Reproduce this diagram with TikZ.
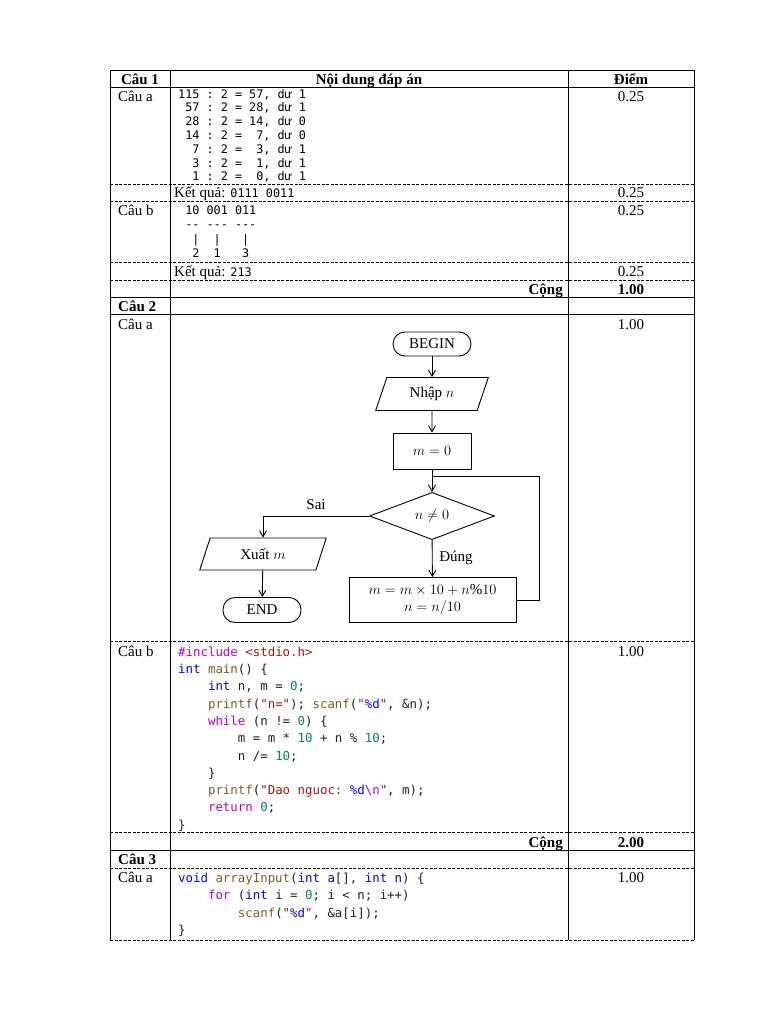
\documentclass[tikz,border=0pt]{standalone}
\usepackage{fontspec}
\setmainfont{Liberation Serif}
\newfontfamily\cmono{DejaVu Sans Mono}
\usetikzlibrary{shapes.geometric,arrows.meta}
\definecolor{ckw}{HTML}{0000FF}
\definecolor{cctl}{HTML}{AF00DB}
\definecolor{cfn}{HTML}{795E26}
\definecolor{cstr}{HTML}{A31515}
\definecolor{cnum}{HTML}{098658}
\definecolor{cvar}{HTML}{202020}
\newcommand{\K}[1]{\textcolor{ckw}{#1}}
\newcommand{\C}[1]{\textcolor{cctl}{#1}}
\newcommand{\F}[1]{\textcolor{cfn}{#1}}
\newcommand{\Sq}[1]{\textcolor{cstr}{#1}}
\newcommand{\N}[1]{\textcolor{cnum}{#1}}
\begin{document}
\begin{tikzpicture}[x=1pt,y=-1pt,
  hd/.style={text height=10pt, text depth=3pt, yshift=-1.8pt},
  txt/.style={font=\fontsize{15}{16}\selectfont, inner sep=0pt, anchor=west, hd},
  bt/.style={font=\bfseries\fontsize{15}{16}\selectfont, inner sep=0pt, hd},
  pt/.style={font=\fontsize{15}{16}\selectfont, inner sep=0pt, hd},
  cd/.style={font=\cmono\fontsize{11.8}{13}\selectfont, inner sep=0pt, anchor=west, text height=9pt, text depth=3pt, yshift=-1.2pt},
  cc/.style={font=\cmono\fontsize{12.4}{14}\selectfont, inner sep=0pt, anchor=west, text=cvar, text height=9.5pt, text depth=3pt, yshift=-1pt},
  grid/.style={line width=0.8pt},
  dsh/.style={line width=0.7pt, dash pattern=on 3pt off 1.5pt},
  fc/.style={draw, line width=0.9pt, font=\fontsize{15}{17}\selectfont},
  para/.style={fc, trapezium, trapezium left angle=68, trapezium right angle=112, trapezium stretches=true},
  arr/.style={line width=0.9pt, -{Straight Barb[length=6pt,width=7pt]}},
  ln/.style={line width=0.9pt}]
\useasboundingbox (0,0) rectangle (768,1024);
\fill[white] (0,0) rectangle (768,1024);
% table lines
\foreach \x in {110,170,568,694} \draw[grid] (\x,70) -- (\x,940);
\foreach \y in {70,87,297,314,850} \draw[grid] (110,\y) -- (694,\y);
\foreach \y in {184,201,262,280,641,832,868,940} \draw[dsh] (110,\y) -- (694,\y);
% header
\node[bt] (h1) at (140,79) {Câu 1};
\node[bt] (h2) at (369,79) {Nội dung đáp án};
\node[bt] (h3) at (631,79) {Điểm};
% cau 1a
\node[txt] (l1a) at (118,96) {Câu a};
\node[pt] (p1a) at (631,96) {0.25};
\node[cd] (c1) at (178,94) {115~:~2~=~57,~dư~1};
\node[cd] (c2) at (178,107.8) {~57~:~2~=~28,~dư~1};
\node[cd] (c3) at (178,121.6) {~28~:~2~=~14,~dư~0};
\node[cd] (c4) at (178,135.4) {~14~:~2~=~~7,~dư~0};
\node[cd] (c5) at (178,149.2) {~~7~:~2~=~~3,~dư~1};
\node[cd] (c6) at (178,163) {~~3~:~2~=~~1,~dư~1};
\node[cd] (c7) at (178,176.8) {~~1~:~2~=~~0,~dư~1};
\node[txt] (k1) at (174,192.5) {Kết quả: {\cmono\fontsize{11.8}{13}\selectfont 0111~0011}};
\node[pt] (p1a2) at (631,192.5) {0.25};
% cau 1b
\node[txt] (l1b) at (118,210) {Câu b};
\node[pt] (p1b) at (631,210) {0.25};
\node[cd] (b1) at (178,210) {~10~001~011};
\node[cd] (b2) at (178,224) {~--~---~---};
\node[cd] (b3) at (178,239) {~~|~~|~~~|};
\node[cd] (b4) at (178,253) {~~2~~1~~~3};
\node[txt] (k2) at (174,271) {Kết quả: {\cmono\fontsize{11.8}{13}\selectfont 213}};
\node[pt] (p1b2) at (631,271) {0.25};
\node[bt, anchor=east] (cg1) at (563,289) {Cộng};
\node[bt] (s1) at (631,289) {1.00};
% cau 2
\node[bt, anchor=west] (h21) at (118,306) {Câu 2};
\node[txt] (l2a) at (118,324) {Câu a};
\node[pt] (p2a) at (631,324) {1.00};
% flowchart
\node[fc, rounded corners=12pt, minimum width=78pt, minimum height=24pt, inner sep=0pt] (beg) at (432,344) {BEGIN};
\node[para, minimum width=113pt, minimum height=33pt, inner sep=0pt] (inp) at (432,394) {Nhập $n$};
\node[fc, rectangle, minimum width=78pt, minimum height=36pt, inner sep=0pt] (m0) at (432,451) {$m=0$};
\node[fc, diamond, minimum width=125pt, minimum height=44pt, inner sep=0pt] (dia) at (432,516) {$n\neq 0$};
\node[fc, rectangle, minimum width=167pt, minimum height=45pt, inner sep=0pt, align=center] (act) at (432.5,600) {$m=m\times 10+n\%10$\\$n=n/10$};
\node[para, minimum width=127pt, minimum height=32pt, inner sep=0pt] (out) at (263,554) {Xuất $m$};
\node[fc, rounded corners=12pt, minimum width=78pt, minimum height=25pt, inner sep=0pt] (end) at (262,610) {END};
\coordinate (lp) at (432,476);
\draw[arr] (beg) -- (inp);
\draw[arr] (inp) -- (m0);
\draw[arr] (m0) -- (dia);
\draw[arr] (dia.west) -| (out.north);
\draw[arr] (out) -- (end);
\draw[arr] (dia) -- (act);
\draw[ln] (act.east) -- (539,600) |- (lp);
\node[pt] (sai) at (316,504) {Sai};
\node[pt] (dung) at (456,556) {Đúng};
% cau 2b
\node[txt] (l2b) at (118,651) {Câu b};
\node[pt] (p2b) at (631,651) {1.00};
\node[cc] (d1) at (178,652) {\C{\#include} \Sq{<stdio.h>}};
\node[cc] (d2) at (178,669.3) {\K{int} \F{main}() \{};
\node[cc] (d3) at (178,686.6) {~~~~\K{int} n, m = \N{0};};
\node[cc] (d4) at (178,703.9) {~~~~\F{printf}(\Sq{"n="}); \F{scanf}(\Sq{"}\K{\%d}\Sq{"}, \&n);};
\node[cc] (d5) at (178,721.2) {~~~~\C{while} (n != \N{0}) \{};
\node[cc] (d6) at (178,738.5) {~~~~~~~~m = m * \N{10} + n \% \N{10};};
\node[cc] (d7) at (178,755.8) {~~~~~~~~n /= \N{10};};
\node[cc] (d8) at (178,773.1) {~~~~\}};
\node[cc] (d9) at (178,790.4) {~~~~\F{printf}(\Sq{"Dao~nguoc:}~\K{\%d}\textcolor{cctl}{\textbackslash n}\Sq{"}, m);};
\node[cc] (d10) at (178,807.7) {~~~~\C{return} \N{0};};
\node[cc] (d11) at (178,825) {\}};
\node[bt, anchor=east] (cg2) at (563,842) {Cộng};
\node[bt] (s2) at (631,842) {2.00};
% cau 3
\node[bt, anchor=west] (h3a) at (118,859) {Câu 3};
\node[txt] (l3a) at (118,877) {Câu a};
\node[pt] (p3a) at (631,877) {1.00};
\node[cc] (e1) at (178,878) {\K{void} \F{arrayInput}(\K{int} \textcolor{ckw!70!black}{a}[], \K{int} \textcolor{ckw!70!black}{n}) \{};
\node[cc] (e2) at (178,895.5) {~~~~\C{for} (\K{int} i = \N{0}; i < n; i++)};
\node[cc] (e3) at (178,913) {~~~~~~~~\F{scanf}(\Sq{"}\K{\%d}\Sq{"}, \&a[i]);};
\node[cc] (e4) at (178,930.5) {\}};
\end{tikzpicture}
\end{document}
